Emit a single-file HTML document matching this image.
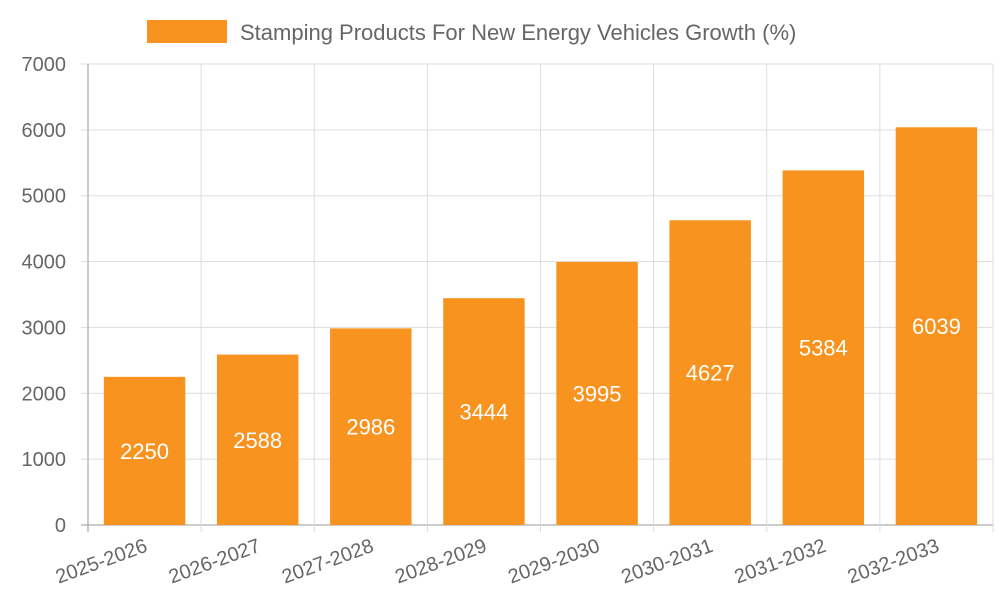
<!DOCTYPE html>
<html><head><meta charset="utf-8"><style>
body{margin:0;background:#fff;}
svg text{font-family:"Liberation Sans",sans-serif;}
</style></head><body>
<svg id="chart" width="1000" height="600" xmlns="http://www.w3.org/2000/svg">
<g>
<rect x="147" y="20" width="80" height="23" fill="#f7931e"/>
<text x="240" y="40" font-size="22" fill="#666">Stamping Products For New Energy Vehicles Growth (%)</text>
</g>
<g id="grid"></g>
<g id="bars"></g>
<g id="axes"></g>
</svg>
<script>
const categories=["2025-2026","2026-2027","2027-2028","2028-2029","2029-2030","2030-2031","2031-2032","2032-2033"];
const values=[2250,2588,2986,3444,3995,4627,5384,6039];
const yTicks=[0,1000,2000,3000,4000,5000,6000,7000];
const X0=88,X1=993,Y0=525,Y1=64,YMAX=7000;
const bw=(X1-X0)/categories.length;
const y=v=>Y0-(v/YMAX)*(Y0-Y1);
const x=i=>X0+i*bw;
const NS="http://www.w3.org/2000/svg";
function mk(t,a,p){const e=document.createElementNS(NS,t);for(const k in a)e.setAttribute(k,a[k]);p.appendChild(e);return e;}
const grid=document.getElementById('grid'),bars=document.getElementById('bars'),axes=document.getElementById('axes');
yTicks.forEach(t=>{
 const l=mk('line',{x1:X0-7,x2:X1,y1:y(t),y2:y(t),stroke:t===0?'#999':'#ddd','stroke-width':1},grid);
 
 
 const tx=mk('text',{x:66,y:y(t)+7,'text-anchor':'end','font-size':20,fill:'#666'},axes);
 tx.textContent=t;
 
 
});
for(let i=0;i<=categories.length;i++){
 const l=mk('line',{x1:x(i),x2:x(i),y1:Y1,y2:Y0+7,stroke:i===0?'#999':'#ddd','stroke-width':1},grid);
 
 
}
categories.forEach((c,i)=>{
 const w=bw*0.72,bx=x(i)+(bw-w)/2;
 const r=mk('rect',{x:bx,y:y(values[i]),width:w,height:Y0-y(values[i]),fill:'#f7931e'},bars);
 
 
 const v=mk('text',{x:bx+w/2,y:(y(values[i])+Y0)/2+8,'text-anchor':'middle','font-size':22,fill:'#fff'},bars);
 v.textContent=values[i];
 
 
 const cx=x(i)+bw/2+4,cy=Y0+26;
 const t=mk('text',{x:cx,y:cy,'text-anchor':'end','font-size':20,fill:'#666',transform:`rotate(-20 ${cx} ${cy})`},axes);
 t.textContent=c;
 
 
});
</script>
</body></html>
